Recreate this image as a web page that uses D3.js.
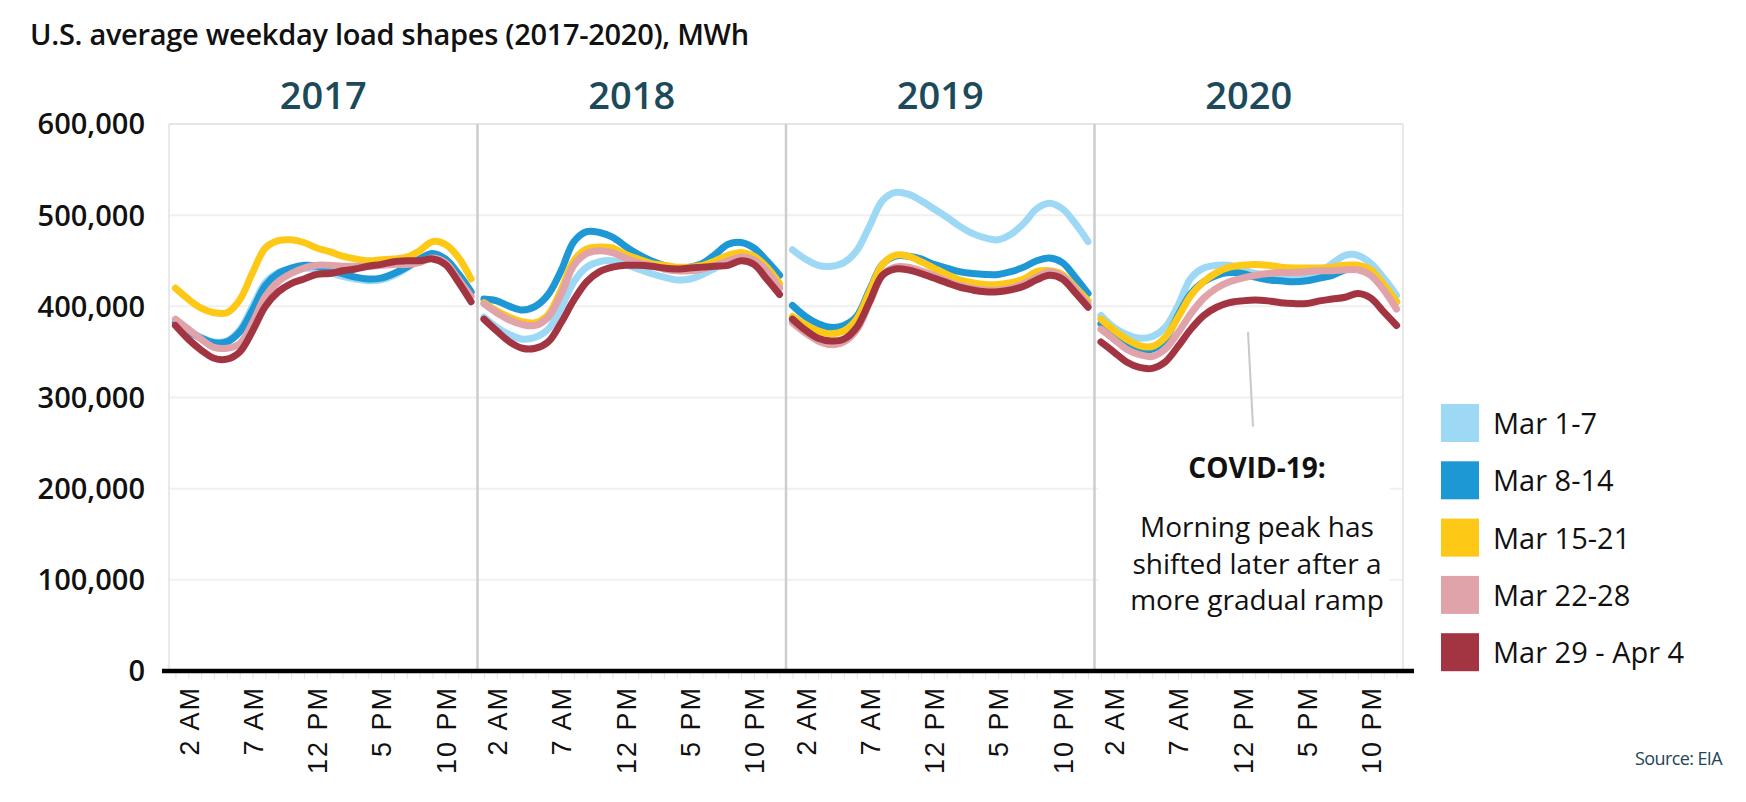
<!DOCTYPE html>
<html><head><meta charset="utf-8">
<script src="https://cdn.jsdelivr.net/npm/d3@7"></script>
<style>
html,body{margin:0;padding:0;background:#fff;}
svg{display:block;}
</style></head>
<body>
<svg id="chart" width="1746" height="802"></svg>
<script>
const title = "U.S. average weekday load shapes (2017-2020), MWh";
const years = ["2017","2018","2019","2020"];
const hours = ["1 AM","2 AM","3 AM","4 AM","5 AM","6 AM","7 AM","8 AM","9 AM","10 AM","11 AM","12 PM",
               "1 PM","2 PM","3 PM","4 PM","5 PM","6 PM","7 PM","8 PM","9 PM","10 PM","11 PM","12 AM"];
const hourTickLabels = ["2 AM","7 AM","12 PM","5 PM","10 PM"];
const yTicks = [0,100000,200000,300000,400000,500000,600000];
const seriesNames = ["Mar 1-7","Mar 8-14","Mar 15-21","Mar 22-28","Mar 29 - Apr 4"];
const seriesColors = ["#9dd9f5","#1e98d5","#fec916","#e0a3aa","#a33441"];

// order of series in each year: Mar 1-7, Mar 8-14, Mar 15-21, Mar 22-28, Mar 29 - Apr 4
const load2017 = [
 [383000,374000,366000,361000,362000,374000,400000,426000,437000,441000,442000,441000,437000,433000,430000,428000,429000,434000,442000,451000,456000,451000,435000,415000],
 [382000,373000,365000,360000,361000,372000,396000,423000,436000,442000,445000,444000,440000,436000,432000,430000,431000,436000,443000,452000,458000,452000,436000,416000],
 [420000,408000,398000,393000,393000,407000,437000,464000,472000,473000,470000,464000,460000,455000,452000,450000,451000,452000,454000,461000,471000,468000,454000,430000],
 [386000,375000,364000,355000,354000,359000,382000,411000,427000,436000,442000,445000,445000,444000,444000,444000,445000,446000,446000,448000,453000,448000,430000,411000],
 [379000,364000,352000,343000,342000,350000,373000,400000,416000,425000,430000,435000,436000,439000,441000,444000,446000,449000,450000,450000,452000,446000,427000,405000]
];
const load2018 = [
 [388000,377000,369000,364000,366000,375000,398000,427000,443000,449000,450000,446000,441000,436000,432000,429000,430000,435000,442000,449000,453000,450000,439000,421000],
 [408000,406000,400000,396000,400000,413000,439000,471000,482000,481000,476000,466000,457000,450000,445000,442000,443000,447000,457000,468000,470000,464000,450000,434000],
 [404000,395000,388000,383000,382000,391000,418000,450000,463000,465000,464000,457000,452000,447000,445000,443000,443000,445000,450000,456000,459000,455000,443000,425000],
 [403000,393000,385000,380000,379000,388000,413000,445000,458000,461000,459000,453000,448000,445000,441000,439000,439000,441000,445000,450000,454000,451000,439000,420000],
 [386000,373000,361000,354000,354000,361000,382000,407000,427000,438000,443000,445000,445000,444000,442000,441000,442000,443000,444000,445000,450000,446000,430000,413000]
];
const load2019 = [
 [462000,452000,445000,444000,448000,461000,488000,516000,525000,523000,516000,507000,498000,488000,480000,475000,473000,479000,491000,507000,513000,507000,491000,471000],
 [401000,389000,381000,377000,379000,389000,418000,446000,455000,455000,452000,446000,442000,438000,436000,435000,435000,438000,443000,450000,453000,448000,432000,414000],
 [389000,380000,373000,370000,373000,386000,416000,446000,456000,455000,449000,442000,435000,429000,426000,424000,424000,426000,430000,438000,439000,435000,421000,406000],
 [382000,371000,362000,358000,361000,374000,404000,434000,443000,443000,439000,434000,428000,423000,420000,418000,418000,420000,425000,432000,438000,433000,419000,402000],
 [386000,374000,365000,362000,364000,377000,405000,434000,441000,440000,436000,431000,426000,421000,418000,416000,416000,418000,422000,429000,434000,430000,415000,399000]
];
const load2020 = [
 [390000,377000,369000,365000,367000,377000,401000,431000,442000,445000,445000,440000,436000,434000,432000,432000,434000,437000,447000,456000,456000,447000,431000,412000],
 [381000,369000,360000,353000,353000,364000,390000,414000,427000,434000,437000,436000,432000,429000,428000,427000,428000,431000,434000,440000,442000,435000,420000,405000],
 [386000,374000,364000,357000,356000,366000,388000,412000,427000,437000,443000,445000,446000,445000,443000,442000,442000,442000,443000,445000,445000,440000,424000,405000],
 [375000,364000,353000,347000,345000,353000,371000,392000,409000,420000,427000,431000,434000,436000,437000,437000,438000,439000,439000,440000,440000,434000,418000,397000],
 [361000,350000,339000,333000,332000,339000,356000,375000,390000,399000,404000,406000,407000,406000,404000,403000,403000,406000,408000,410000,414000,409000,394000,379000]
];
const loads = [load2017, load2018, load2019, load2020];

const annotationTitle = "COVID-19:";
const annotationLines = ["Morning peak has","shifted later after a","more gradual ramp"];
const sourceText = "Source: EIA";

// ---------- drawing ----------
const svg = d3.select("#chart");
const FONT = "'Open Sans', 'Noto Sans', sans-serif";
const plotLeft = 169, plotRight = 1403, plotTop = 124, plotBottom = 671;

const y = d3.scaleLinear().domain([0, 600000]).range([plotBottom, plotTop]);
const panel = d3.scaleBand().domain(years).range([plotLeft, plotRight]).padding(0);

// title
svg.append("text").attr("x", 30).attr("y", 45)
  .attr("font-family", FONT).attr("font-weight", 600).attr("font-size", 29)
  .attr("letter-spacing", -0.3)
  .attr("fill", "#111").text(title);

// gridlines
const grid = svg.append("g");
grid.selectAll("line.h").data(yTicks.filter(d => d > 0 && d < 600000)).join("line")
  .attr("x1", plotLeft).attr("x2", plotRight)
  .attr("y1", d => y(d)).attr("y2", d => y(d))
  .attr("stroke", "#f0f0f0").attr("stroke-width", 2);
grid.append("line").attr("x1", plotLeft).attr("x2", plotRight)
  .attr("y1", y(600000)).attr("y2", y(600000))
  .attr("stroke", "#dcdcdc").attr("stroke-width", 1.5);
grid.append("line").attr("x1", plotLeft).attr("x2", plotLeft)
  .attr("y1", plotTop).attr("y2", plotBottom).attr("stroke", "#e2e2e2").attr("stroke-width", 1.5);
grid.append("line").attr("x1", plotRight).attr("x2", plotRight)
  .attr("y1", plotTop).attr("y2", plotBottom).attr("stroke", "#e2e2e2").attr("stroke-width", 1.5);
grid.selectAll("line.div").data(years.slice(1)).join("line")
  .attr("x1", d => panel(d)).attr("x2", d => panel(d))
  .attr("y1", plotTop).attr("y2", plotBottom)
  .attr("stroke", "#cdcdcd").attr("stroke-width", 2.5);

// y axis labels
const yAxis = d3.axisLeft(y).tickValues(yTicks).tickSize(0).tickPadding(0)
  .tickFormat(d3.format(","));
const yg = svg.append("g").attr("transform", `translate(145,0)`).call(yAxis);
yg.select(".domain").remove();
yg.selectAll("text").attr("font-family", FONT).attr("font-size", 29)
  .attr("font-weight", 600).attr("fill", "#111").attr("dy", "0.34em");

// panels
years.forEach((yr, yi) => {
  const x = d3.scalePoint().domain(hours).range([panel(yr), panel(yr) + panel.bandwidth()]).padding(0.5);
  const g = svg.append("g");
  // year header
  g.append("text").attr("x", panel(yr) + panel.bandwidth() / 2).attr("y", 109)
    .attr("text-anchor", "middle").attr("font-family", FONT).attr("font-weight", 600)
    .attr("font-size", 38).attr("fill", "#1c4a5b").text(yr);
  // x axis
  const xAxis = d3.axisBottom(x).tickValues(hours).tickSize(6).tickPadding(0)
    .tickFormat(d => hourTickLabels.includes(d) ? d : "");
  const xg = g.append("g").attr("transform", `translate(0,${plotBottom + 2})`).call(xAxis);
  xg.select(".domain").remove();
  xg.selectAll(".tick line").attr("stroke", "#e4e4e4").attr("stroke-width", 1);
  xg.selectAll(".tick text")
    .attr("transform", "rotate(-90)")
    .attr("text-anchor", "end").attr("x", -13).attr("y", 0).attr("dy", "0.36em")
    .attr("font-family", "'Liberation Sans', Arial, sans-serif")
    .attr("font-size", 27).attr("letter-spacing", 2).attr("fill", "#111");
  // lines
  const line = d3.line().x((d, i) => x(hours[i])).y(d => y(d)).curve(d3.curveCatmullRom.alpha(0.5));
  g.selectAll("path.s").data(loads[yi]).join("path")
    .attr("d", d => line(d)).attr("fill", "none")
    .attr("stroke", (d, i) => seriesColors[i]).attr("stroke-width", 7)
    .attr("stroke-linejoin", "round").attr("stroke-linecap", "round");
});

// x axis baseline
svg.append("line").attr("x1", 162).attr("x2", 1414)
  .attr("y1", plotBottom).attr("y2", plotBottom)
  .attr("stroke", "#000").attr("stroke-width", 4.5);

// annotation
const ann = svg.append("g");
ann.append("rect").attr("x", 1098).attr("y", 448).attr("width", 292).attr("height", 175).attr("fill", "#fff");
ann.append("line").attr("x1", 1248).attr("y1", y(372000)).attr("x2", 1253).attr("y2", y(268000))
  .attr("stroke", "#c8c8c8").attr("stroke-width", 2);
ann.append("text").attr("x", 1257).attr("y", 478).attr("text-anchor", "middle")
  .attr("font-family", FONT).attr("font-weight", 700).attr("font-size", 28).attr("fill", "#111")
  .text(annotationTitle);
ann.selectAll("text.l").data(annotationLines).join("text")
  .attr("x", 1257).attr("y", (d, i) => 537 + i * 36.5).attr("text-anchor", "middle")
  .attr("font-family", FONT).attr("font-size", 28).attr("fill", "#111").text(d => d);

// legend
const leg = svg.append("g").attr("transform", "translate(1441,404)");
const li = leg.selectAll("g").data(seriesNames).join("g").attr("transform", (d, i) => `translate(0,${i * 57.3})`);
li.append("rect").attr("width", 38).attr("height", 38).attr("fill", (d, i) => seriesColors[i]);
li.append("text").attr("x", 52).attr("y", 30).attr("font-family", FONT).attr("font-size", 29)
  .attr("fill", "#111").text(d => d);

// source
svg.append("text").attr("x", 1722).attr("y", 765).attr("text-anchor", "end")
  .attr("font-family", FONT).attr("font-size", 18).attr("letter-spacing", -0.6)
  .attr("fill", "#1d4756").text(sourceText);
</script>
</body></html>
